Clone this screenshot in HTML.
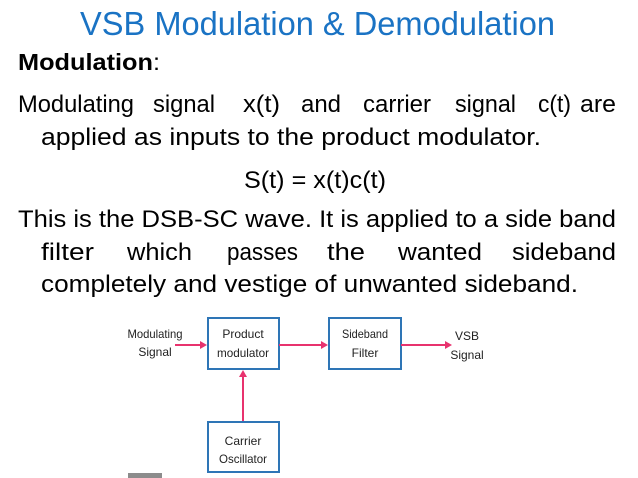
<!DOCTYPE html>
<html><head><meta charset="utf-8"><style>
html,body{margin:0;padding:0;background:#fff;}
svg{display:block;}
text{font-family:"Liberation Sans",sans-serif;}
</style></head><body>
<svg width="638" height="478" viewBox="0 0 638 478" xmlns="http://www.w3.org/2000/svg">
<text x="80" y="35" font-size="33" fill="#1a73c4" textLength="475" lengthAdjust="spacingAndGlyphs">VSB Modulation &amp; Demodulation</text>
<text x="18" y="70" font-size="23" fill="#000" textLength="142" lengthAdjust="spacingAndGlyphs"><tspan font-weight="bold">Modulation</tspan>:</text>
<g font-size="24" fill="#000">
<text x="18" y="112" textLength="116" lengthAdjust="spacingAndGlyphs">Modulating</text>
<text x="153" y="112" textLength="62" lengthAdjust="spacingAndGlyphs">signal</text>
<text x="243" y="112" textLength="37" lengthAdjust="spacingAndGlyphs">x(t)</text>
<text x="301" y="112" textLength="40" lengthAdjust="spacingAndGlyphs">and</text>
<text x="363" y="112" textLength="68" lengthAdjust="spacingAndGlyphs">carrier</text>
<text x="455" y="112" textLength="61" lengthAdjust="spacingAndGlyphs">signal</text>
<text x="538" y="112" textLength="33" lengthAdjust="spacingAndGlyphs">c(t)</text>
<text x="580" y="112" textLength="36" lengthAdjust="spacingAndGlyphs">are</text>
<text x="41" y="145" textLength="500" lengthAdjust="spacingAndGlyphs">applied as inputs to the product modulator.</text>
<text x="244" y="188" textLength="142" lengthAdjust="spacingAndGlyphs">S(t) = x(t)c(t)</text>
<text x="18" y="227" textLength="598" lengthAdjust="spacingAndGlyphs">This is the DSB-SC wave. It is applied to a side band</text>
<text x="41" y="260" textLength="53" lengthAdjust="spacingAndGlyphs">filter</text>
<text x="127" y="260" textLength="65" lengthAdjust="spacingAndGlyphs">which</text>
<text x="227" y="260" textLength="71" lengthAdjust="spacingAndGlyphs">passes</text>
<text x="327" y="260" textLength="38" lengthAdjust="spacingAndGlyphs">the</text>
<text x="398" y="260" textLength="84" lengthAdjust="spacingAndGlyphs">wanted</text>
<text x="512" y="260" textLength="104" lengthAdjust="spacingAndGlyphs">sideband</text>
<text x="41" y="292" textLength="537" lengthAdjust="spacingAndGlyphs">completely and vestige of unwanted sideband.</text>
</g>
<g fill="none" stroke="#2e75b6" stroke-width="2">
<rect x="208" y="318" width="71" height="51"/>
<rect x="329" y="318" width="72" height="51"/>
<rect x="208" y="422" width="71" height="50"/>
</g>
<g stroke="#e8336e" stroke-width="2">
<line x1="175" y1="345" x2="201" y2="345"/>
<line x1="279" y1="345" x2="322" y2="345"/>
<line x1="401" y1="345" x2="446" y2="345"/>
<line x1="243" y1="421" x2="243" y2="376"/>
</g>
<g fill="#e8336e">
<polygon points="207,345 200,341 200,349"/>
<polygon points="328,345 321,341 321,349"/>
<polygon points="452,345 445,341 445,349"/>
<polygon points="243,370 239,377 247,377"/>
</g>
<g font-size="12" fill="#222" text-anchor="middle">
<text x="155" y="338" textLength="55" lengthAdjust="spacingAndGlyphs">Modulating</text>
<text x="155" y="356">Signal</text>
<text x="243" y="338">Product</text>
<text x="243" y="357" textLength="52" lengthAdjust="spacingAndGlyphs">modulator</text>
<text x="365" y="338" textLength="46" lengthAdjust="spacingAndGlyphs">Sideband</text>
<text x="365" y="357">Filter</text>
<text x="467" y="340">VSB</text>
<text x="467" y="359">Signal</text>
<text x="243" y="445">Carrier</text>
<text x="243" y="463" textLength="48" lengthAdjust="spacingAndGlyphs">Oscillator</text>
</g>
<rect x="128" y="473" width="34" height="5" fill="#8c8c8c"/>
</svg>
</body></html>
